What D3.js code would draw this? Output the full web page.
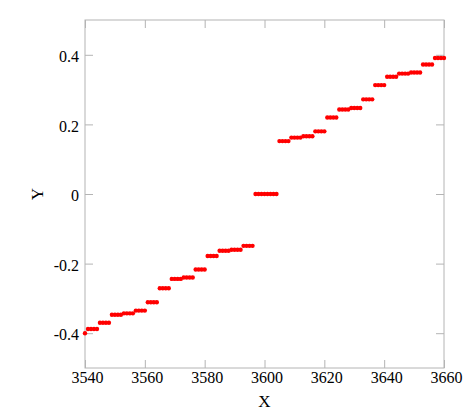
<!DOCTYPE html>
<html>
<head>
<meta charset="utf-8">
<script src="https://cdn.jsdelivr.net/npm/d3@7"></script>
<style>
  html, body { margin: 0; padding: 0; background: #fff; }
  svg { display: block; }
</style>
</head>
<body>
<div id="chart"></div>
<script>
// x positions of the samples (one per integer step)
const xValues = [
  3540,
  3541, 3542, 3543, 3544, 3545, 3546, 3547, 3548,
  3549, 3550, 3551, 3552, 3553, 3554, 3555, 3556,
  3557, 3558, 3559, 3560, 3561, 3562, 3563, 3564,
  3565, 3566, 3567, 3568, 3569, 3570, 3571, 3572,
  3573, 3574, 3575, 3576, 3577, 3578, 3579, 3580,
  3581, 3582, 3583, 3584, 3585, 3586, 3587, 3588,
  3589, 3590, 3591, 3592, 3593, 3594, 3595, 3596,
  3597, 3598, 3599, 3600, 3601, 3602, 3603, 3604,
  3605, 3606, 3607, 3608, 3609, 3610, 3611, 3612,
  3613, 3614, 3615, 3616, 3617, 3618, 3619, 3620,
  3621, 3622, 3623, 3624, 3625, 3626, 3627, 3628,
  3629, 3630, 3631, 3632, 3633, 3634, 3635, 3636,
  3637, 3638, 3639, 3640, 3641, 3642, 3643, 3644,
  3645, 3646, 3647, 3648, 3649, 3650, 3651, 3652,
  3653, 3654, 3655, 3656, 3657, 3658, 3659, 3660
];

const yValues = [
  -0.400,
  -0.388, -0.388, -0.388, -0.388, -0.370, -0.370, -0.370, -0.370,
  -0.347, -0.347, -0.347, -0.347, -0.343, -0.343, -0.343, -0.343,
  -0.335, -0.335, -0.335, -0.335, -0.311, -0.311, -0.311, -0.311,
  -0.271, -0.271, -0.271, -0.271, -0.244, -0.244, -0.244, -0.244,
  -0.240, -0.240, -0.240, -0.240, -0.217, -0.217, -0.217, -0.217,
  -0.178, -0.178, -0.178, -0.178, -0.163, -0.163, -0.163, -0.163,
  -0.160, -0.160, -0.160, -0.160, -0.149, -0.149, -0.149, -0.149,
  0, 0, 0, 0, 0, 0, 0, 0,
  0.152, 0.152, 0.152, 0.152, 0.162, 0.162, 0.162, 0.162,
  0.166, 0.166, 0.166, 0.166, 0.180, 0.180, 0.180, 0.180,
  0.220, 0.220, 0.220, 0.220, 0.243, 0.243, 0.243, 0.243,
  0.247, 0.247, 0.247, 0.247, 0.272, 0.272, 0.272, 0.272,
  0.313, 0.313, 0.313, 0.313, 0.337, 0.337, 0.337, 0.337,
  0.346, 0.346, 0.346, 0.346, 0.349, 0.349, 0.349, 0.349,
  0.372, 0.372, 0.372, 0.372, 0.391, 0.391, 0.391, 0.391
];

const xTicks = [3540, 3560, 3580, 3600, 3620, 3640, 3660];
const yTicks = [-0.4, -0.2, 0, 0.2, 0.4];
const xDomain = [3540, 3660];
const yDomain = [-0.5, 0.5];
const xTitle = 'X';
const yTitle = 'Y';

const width = 474;
const height = 414;
const margin = {top: 20, right: 30, bottom: 46, left: 85};
const serif = '"Liberation Serif", "Times New Roman", serif';

const data = xValues.map((x, i) => ({x, y: yValues[i]}));

const x = d3.scaleLinear()
  .domain(xDomain)
  .range([margin.left, width - margin.right]);

const y = d3.scaleLinear()
  .domain(yDomain)
  .range([height - margin.bottom, margin.top]);

const svg = d3.select('#chart')
  .append('svg')
  .attr('width', width)
  .attr('height', height)
  .style('font-family', serif);

const frameColor = '#b4b4b4';
const yFormat = d => d === 0 ? '0' : d.toFixed(1);

// Inward ticks on all four sides, labels only bottom and left.
function styleAxis(g) {
  g.attr('font-family', serif).attr('font-size', 16);
  g.select('.domain').remove();
  g.selectAll('.tick line').attr('stroke', frameColor);
  g.selectAll('.tick text').attr('fill', '#000');
}

svg.append('g')
  .attr('transform', `translate(0,${height - margin.bottom})`)
  .call(d3.axisBottom(x).tickValues(xTicks).tickSize(-8).tickPadding(4).tickFormat(d3.format('d')))
  .call(styleAxis)
  .call(g => g.selectAll('.tick text').attr('dx', 2));

svg.append('g')
  .attr('transform', `translate(0,${margin.top})`)
  .call(d3.axisTop(x).tickValues(xTicks).tickSize(-8).tickFormat(''))
  .call(styleAxis);

svg.append('g')
  .attr('transform', `translate(${margin.left},0)`)
  .call(d3.axisLeft(y).tickValues(yTicks).tickSize(-8).tickPadding(6).tickFormat(yFormat))
  .call(styleAxis)
  .call(g => g.selectAll('.tick text').attr('dy', '0.42em'));

svg.append('g')
  .attr('transform', `translate(${width - margin.right},0)`)
  .call(d3.axisRight(y).tickValues(yTicks).tickSize(-8).tickFormat(''))
  .call(styleAxis);

// Frame
svg.append('rect')
  .attr('x', margin.left)
  .attr('y', margin.top)
  .attr('width', width - margin.left - margin.right)
  .attr('height', height - margin.top - margin.bottom)
  .attr('fill', 'none')
  .attr('stroke', frameColor);

// Points
svg.append('g')
  .attr('fill', '#ff0000')
  .selectAll('circle')
  .data(data)
  .join('circle')
  .attr('cx', d => x(d.x))
  .attr('cy', d => y(d.y))
  .attr('r', 2.2);

// Axis titles
svg.append('text')
  .attr('x', (margin.left + width - margin.right) / 2)
  .attr('y', 407)
  .attr('text-anchor', 'middle')
  .style('font-size', '17px')
  .text(xTitle);

svg.append('text')
  .attr('transform', `translate(43,${(margin.top + height - margin.bottom) / 2}) rotate(-90)`)
  .attr('text-anchor', 'middle')
  .style('font-size', '17px')
  .text(yTitle);
</script>
</body>
</html>
